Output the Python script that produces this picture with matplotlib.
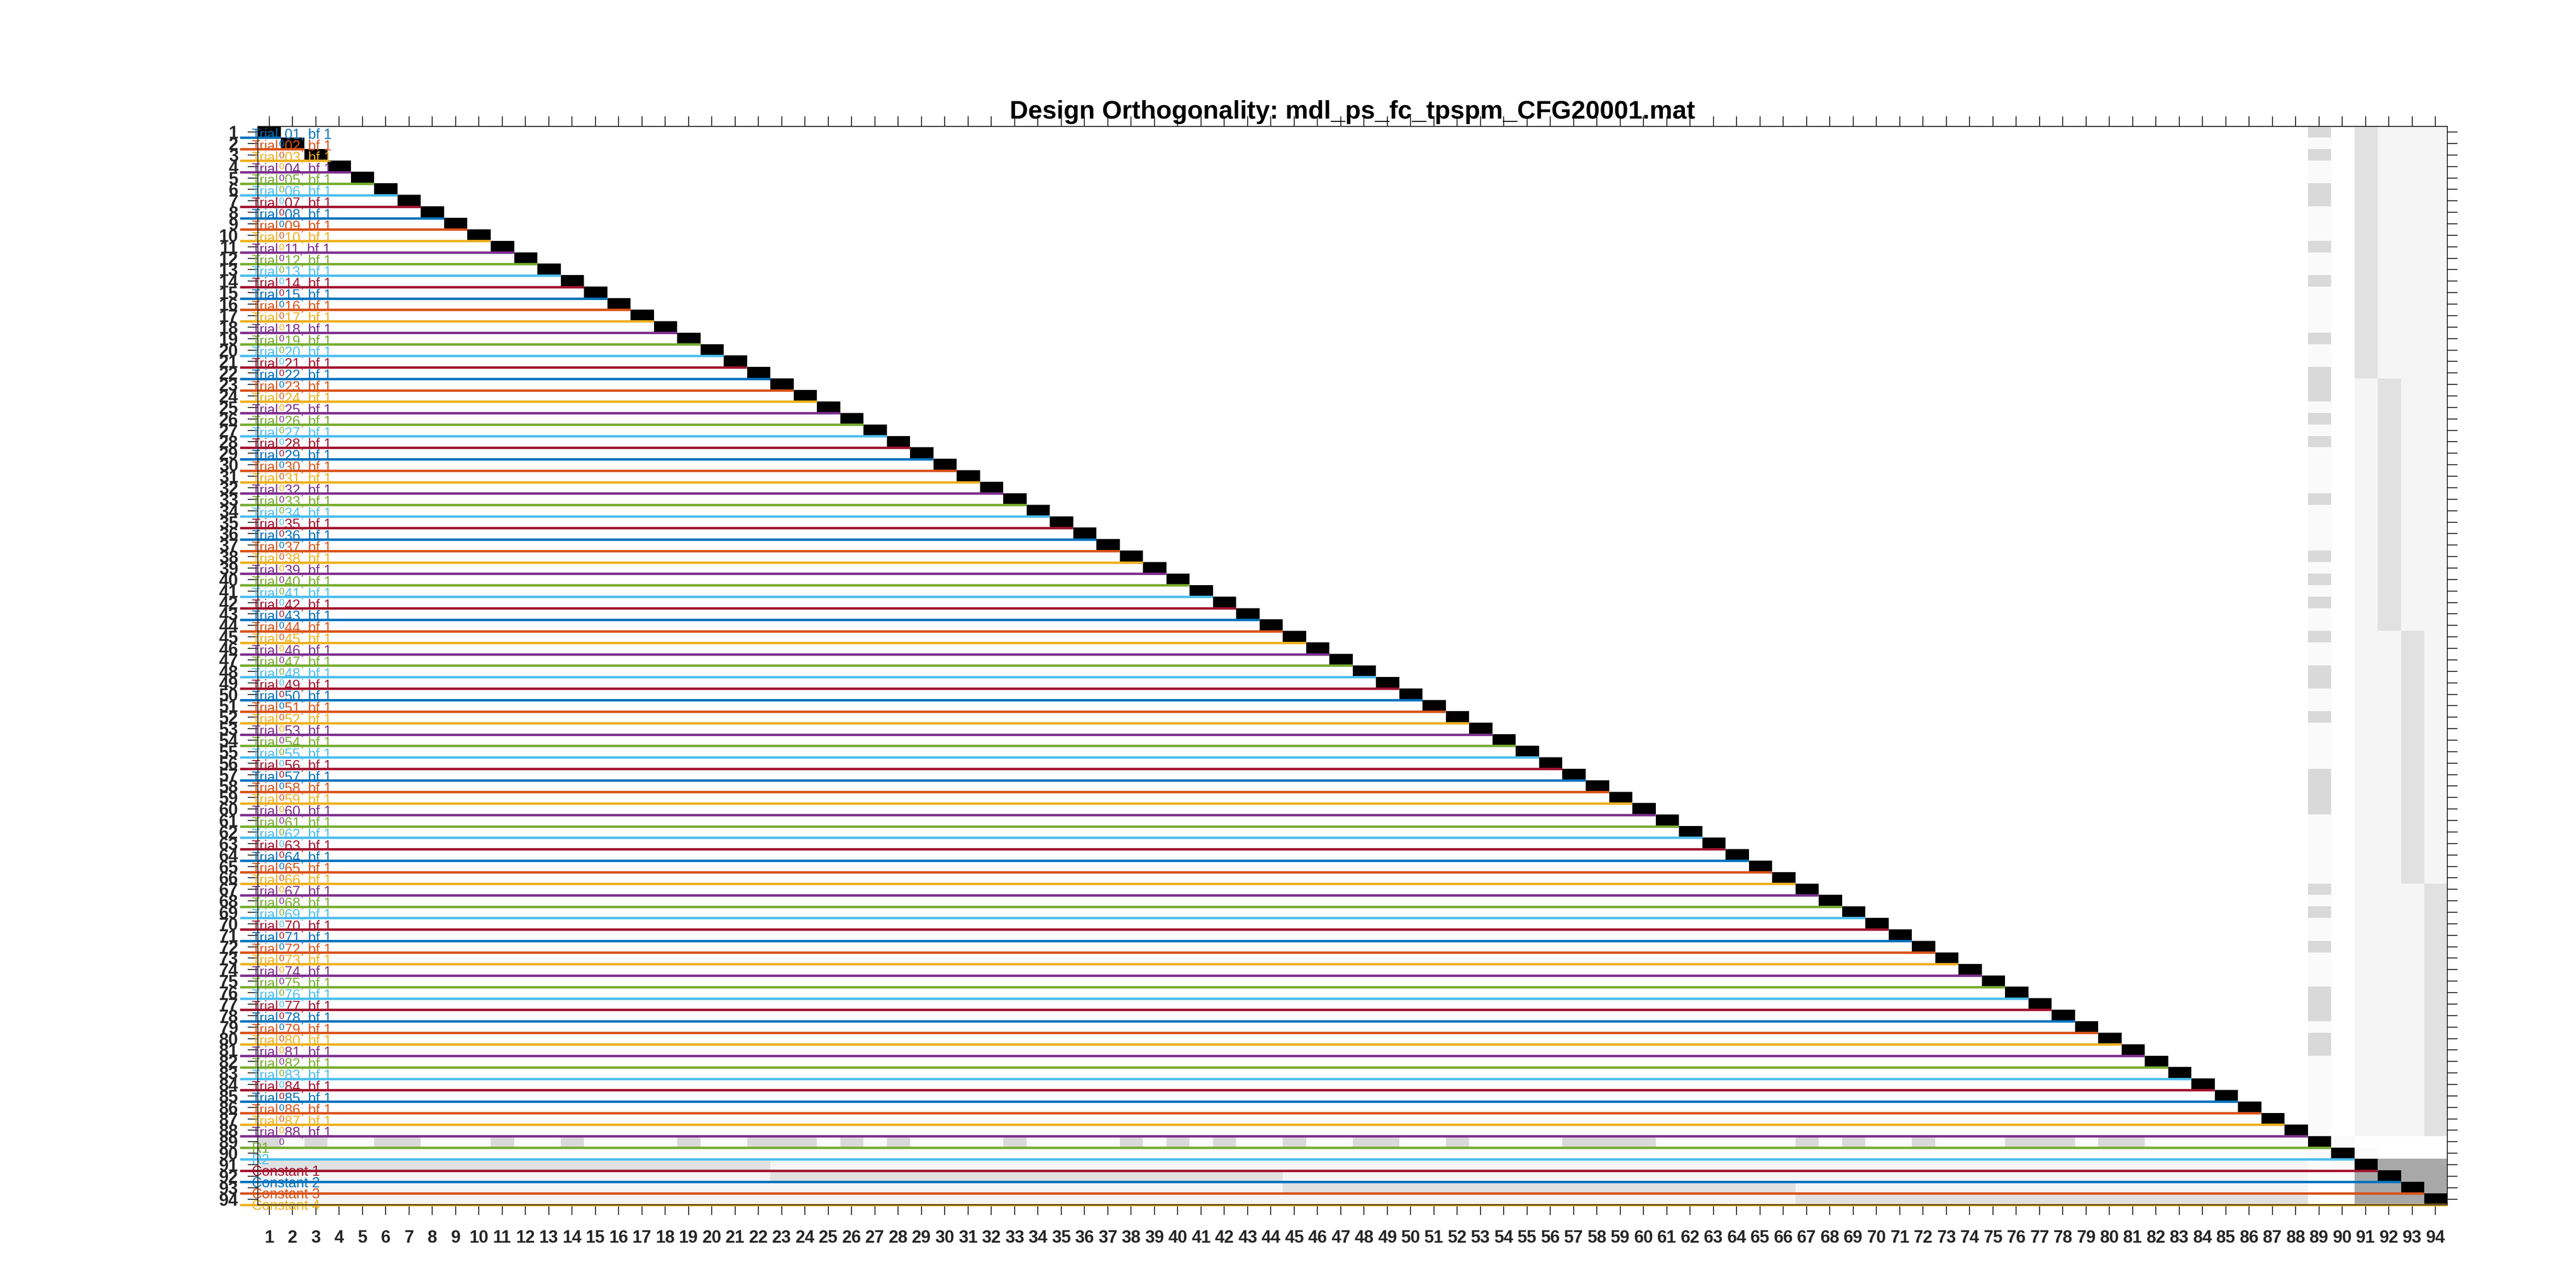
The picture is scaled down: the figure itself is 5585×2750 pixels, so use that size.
import numpy as np
import matplotlib.pyplot as plt

plt.rcParams['font.family'] = ['Liberation Sans', 'DejaVu Sans']

# regressor names (TeX style: "_0" is shown as a subscript 0)
trial_names = ['Trial_0%02d, bf 1' % k for k in range(1, 89)]
other_names = ['R1', 'R2', 'Constant 1', 'Constant 2', 'Constant 3', 'Constant 4']
names = trial_names + other_names

# trials that overlap visibly with R1 (darker cells in row/column 89)
r1_trials = [1, 3, 6, 7, 11, 14, 19, 22, 23, 24, 26, 28, 33, 38, 40, 42, 45,
             48, 49, 52, 57, 58, 59, 60, 67, 69, 72, 76, 77, 78, 80, 81]
r1_hi = 0.15
r1_lo = 0.02

# trials belonging to each constant (session)
sessions = [(1, 22), (23, 44), (45, 66), (67, 88)]
sess_in = 0.12
sess_out = 0.04
const_const = 0.34
r1_r2 = 0.02
r2_const1 = 0.02

title = 'Design Orthogonality: mdl_ps_fc_tpspm_CFG20001.mat'

# matlab default line colours
colors = ['#0072BD', '#D95319', '#EDB120', '#7E2F8E', '#77AC30', '#4DBEEE', '#A2142F']

n = len(names)
nt = len(trial_names)
M = np.eye(n)
for k in range(1, nt + 1):
    v = r1_hi if k in r1_trials else r1_lo
    M[k - 1, nt] = v
    M[nt, k - 1] = v
for c, (a, b) in enumerate(sessions):
    col = nt + 2 + c
    M[:nt, col] = sess_out
    M[a - 1:b, col] = sess_in
    M[col, :nt] = M[:nt, col]
M[nt + 2:, nt + 2:] = const_const
np.fill_diagonal(M, 1)
M[nt, nt + 1] = M[nt + 1, nt] = r1_r2
M[nt + 1, nt + 2] = M[nt + 2, nt + 1] = r2_const1

fig = plt.figure(figsize=(55.85, 27.5), dpi=100)
ax = fig.add_axes([0.1, 0.0505, 0.85, 0.85])
ax.imshow(M, cmap='gray_r', vmin=0, vmax=1, interpolation='nearest',
          aspect='auto', extent=(0.5, n + 0.5, n + 0.5, 0.5))
ax.set_xlim(0.5, n + 0.5)
ax.set_ylim(n + 0.5, 0.5)

ticks = np.arange(1, n + 1)
ax.set_xticks(ticks)
ax.set_yticks(ticks)
ax.tick_params(direction='out', length=15.8, width=1.5, color='#262626',
               top=True, right=True, labelsize=27, labelcolor='#262626')
ax.tick_params(axis='x', pad=23)
ax.tick_params(axis='y', pad=14.4)
for lbl in ax.get_xticklabels() + ax.get_yticklabels():
    lbl.set_fontweight('bold')
for sp in ax.spines.values():
    sp.set_linewidth(1.5)
    sp.set_color('#262626')
    sp.set_zorder(5)

# one coloured line per regressor, running up to its diagonal cell
for i in range(n):
    y = i + 1.5
    ax.plot([-0.26, i + 1.5], [y, y], color=colors[i % 7], lw=3.8,
            clip_on=False, solid_capstyle='butt', zorder=3)

# row labels drawn inside the axes
for i, name in enumerate(names):
    c = colors[i % 7]
    if name.startswith('Trial_'):
        head, rest = name.split('_', 1)
        t1 = ax.text(0.25, i + 1.6, head, color=c, fontsize=22,
                     va='baseline', ha='left', zorder=4)
        t2 = ax.annotate(rest[0], xy=(1, 0), xycoords=t1, xytext=(0, -7),
                         textcoords='offset points', fontsize=15, color=c,
                         va='baseline', ha='left', zorder=4)
        ax.annotate(rest[1:], xy=(1, 0), xycoords=(t2, t1), xytext=(1, 0),
                    textcoords='offset points', fontsize=22, color=c,
                    va='bottom', ha='left', zorder=4)
    else:
        ax.text(0.25, i + 1.95, name, color=c, fontsize=22,
                va='baseline', ha='left', zorder=4)

ax.text(0.5, 1.0073, title, transform=ax.transAxes, ha='center',
        va='baseline', fontsize=40, fontweight='bold', color='k')

fig.savefig('out.png', dpi=100)
